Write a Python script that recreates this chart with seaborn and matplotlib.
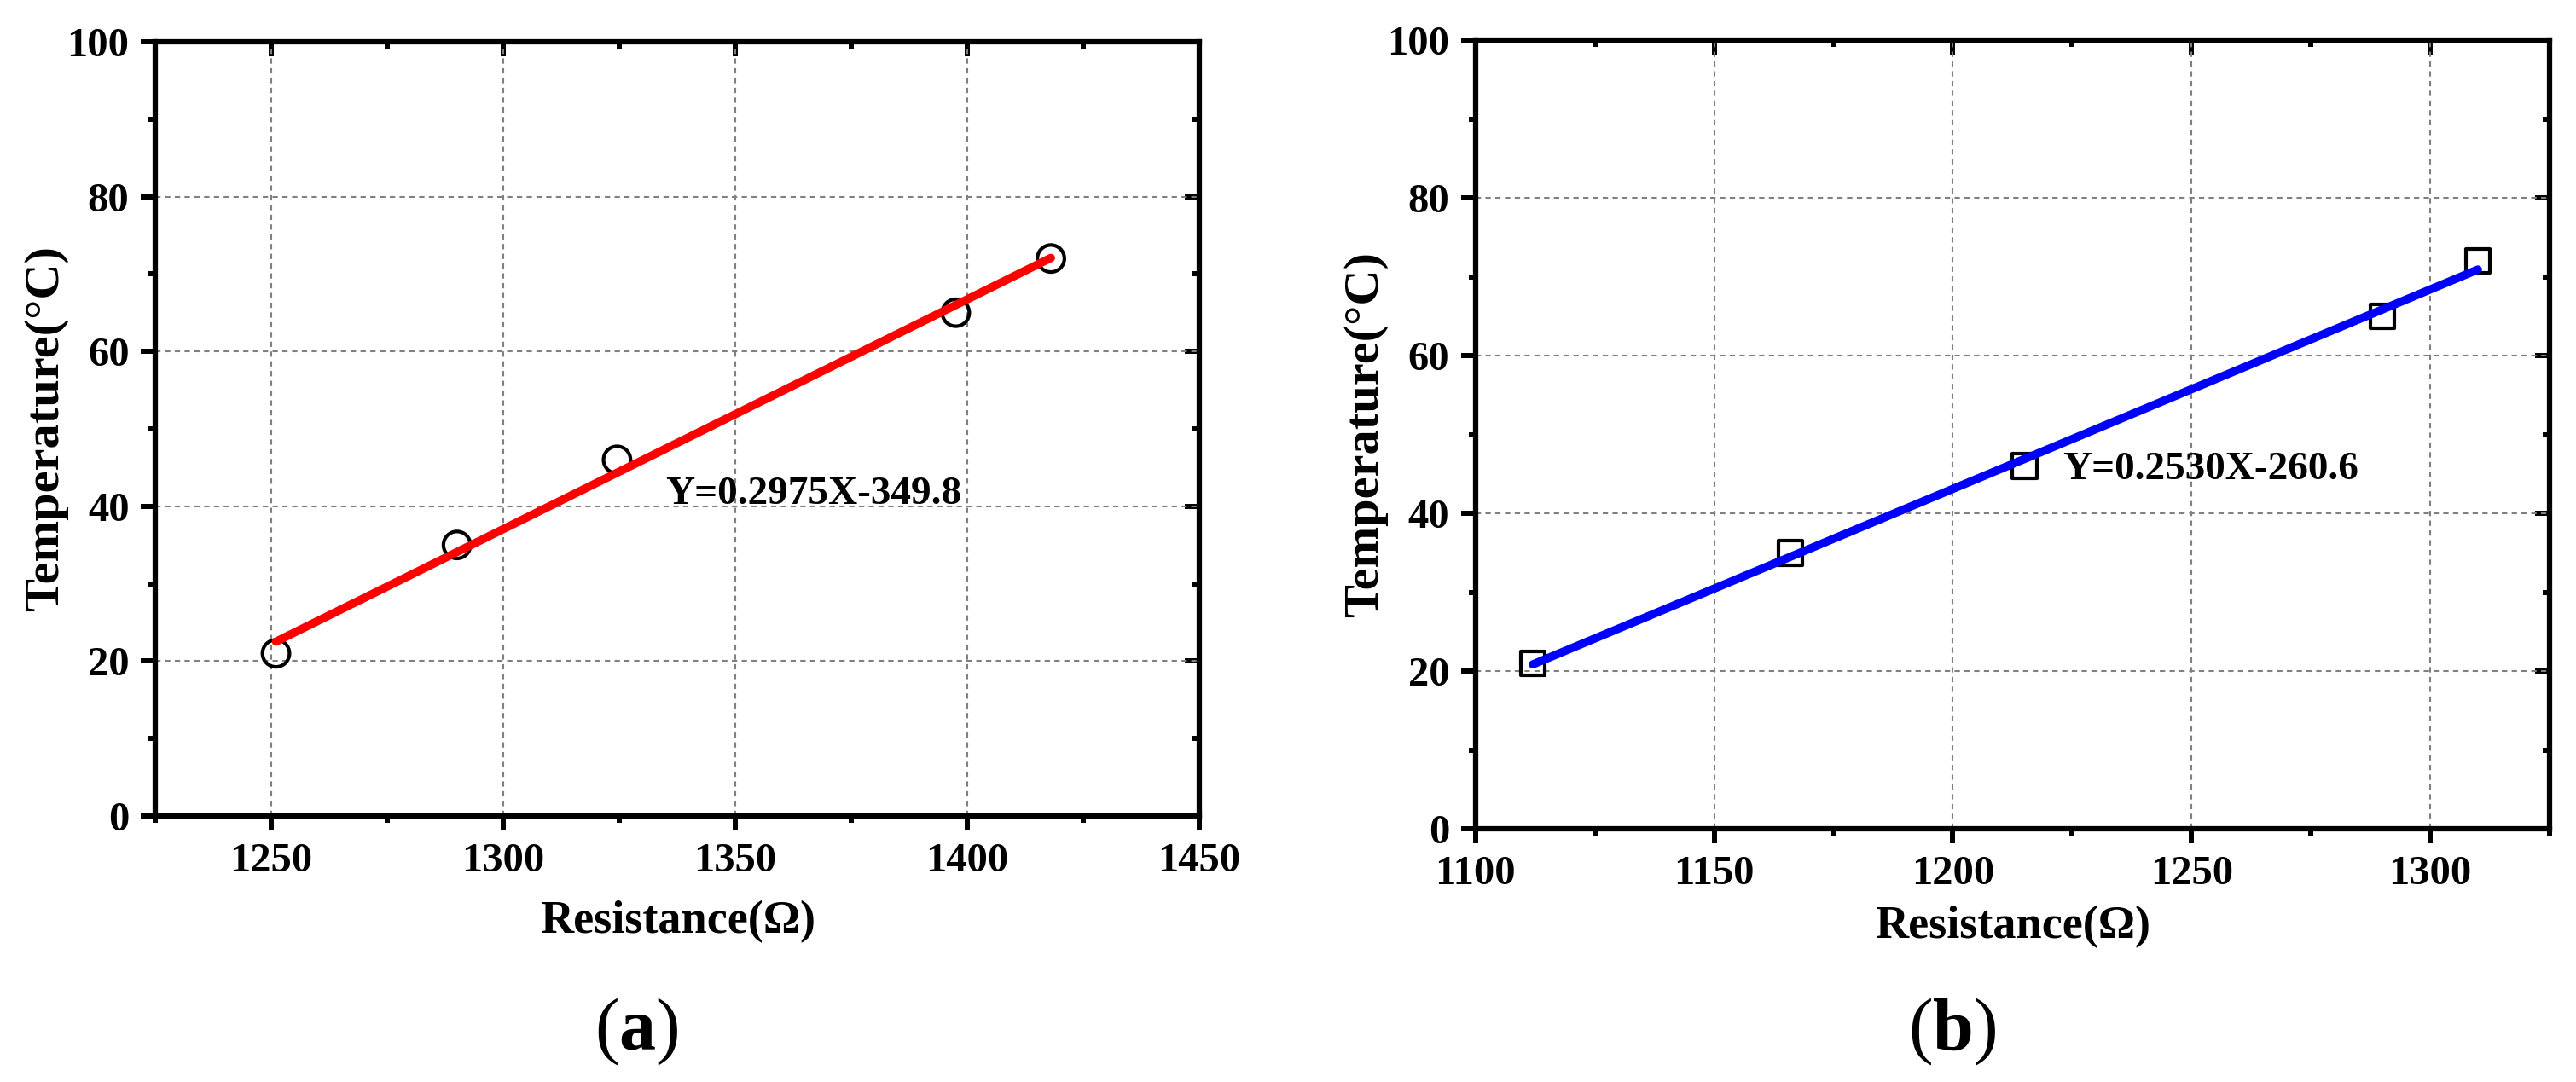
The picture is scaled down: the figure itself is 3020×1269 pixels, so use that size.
import matplotlib
matplotlib.use("Agg")
import matplotlib.pyplot as plt
import seaborn as sns
import numpy as np
import pandas as pd
from matplotlib.ticker import MultipleLocator

resistance_a = [1251, 1290, 1324.5, 1397.5, 1418]
temperature_a = [21, 35, 46, 65, 72]
resistance_b = [1112, 1166, 1215, 1290, 1310]
temperature_b = [21, 35, 46, 65, 72]

eq_a = "Y=0.2975X-349.8"
eq_b = "Y=0.2530X-260.6"
xlabel = "Resistance(Ω)"
ylabel = "Temperature(°C)"

sns.set_theme(style="ticks")
plt.rcParams['font.family'] = ['Liberation Serif', 'DejaVu Serif']
plt.rcParams['font.weight'] = 'bold'
plt.rcParams['text.color'] = 'black'
plt.rcParams['axes.labelcolor'] = 'black'
plt.rcParams['xtick.color'] = 'black'
plt.rcParams['ytick.color'] = 'black'
plt.rcParams['mathtext.fontset'] = 'custom'
plt.rcParams['mathtext.rm'] = 'Liberation Serif'
plt.rcParams['mathtext.bf'] = 'Liberation Serif:bold'

fig = plt.figure(figsize=(30.2, 12.69), dpi=100)
ax_a = fig.add_axes([0.0603, 0.2459, 0.4053, 0.7155])
ax_b = fig.add_axes([0.5728, 0.2340, 0.4169, 0.7289])

df_a = pd.DataFrame({"R": resistance_a, "T": temperature_a})
df_b = pd.DataFrame({"R": resistance_b, "T": temperature_b})


def draw_panel(ax, df, marker, msize, line_color, xlim, eq, eq_pos, ylab_x, xlab_y):
    sns.scatterplot(data=df, x="R", y="T", ax=ax, marker=marker, s=msize,
                    facecolor="none", edgecolor="black", linewidth=3, zorder=3)
    sns.regplot(data=df, x="R", y="T", ax=ax, scatter=False, ci=None, truncate=True,
                line_kws={"color": line_color, "linewidth": 7, "zorder": 4})
    ax.set_xlim(*xlim)
    ax.set_ylim(0, 100)
    ax.xaxis.set_major_locator(MultipleLocator(50))
    ax.xaxis.set_minor_locator(MultipleLocator(25))
    ax.yaxis.set_major_locator(MultipleLocator(20))
    ax.yaxis.set_minor_locator(MultipleLocator(10))
    ax.grid(True, which="major", color="#808080", linestyle=(0, (3, 2.5)), linewidth=1.5)
    ax.set_axisbelow(True)
    for sp in ax.spines.values():
        sp.set_linewidth(4.5)
        sp.set_color("black")
    ax.tick_params(which="both", direction="out", top=False, right=False,
                   width=4.3, colors="black", labelsize=35, pad=10)
    ax.tick_params(which="major", length=12)
    ax.tick_params(which="minor", length=6)
    # inward ticks on top and right
    sec_x = ax.secondary_xaxis("top")
    sec_y = ax.secondary_yaxis("right")
    for sec in (sec_x, sec_y):
        sec.tick_params(which="both", direction="in", width=4.3, labelsize=0)
        sec.tick_params(which="major", length=12)
        sec.tick_params(which="minor", length=6)
        sec.spines[:].set_visible(False)
    sec_x.xaxis.set_major_locator(MultipleLocator(50))
    sec_x.xaxis.set_minor_locator(MultipleLocator(25))
    sec_x.set_xticklabels([])
    sec_y.yaxis.set_major_locator(MultipleLocator(20))
    sec_y.yaxis.set_minor_locator(MultipleLocator(10))
    sec_y.set_yticklabels([])
    for lab in ax.get_xticklabels() + ax.get_yticklabels():
        lab.set_fontweight("bold")
    ax.set_xlabel(xlabel, fontsize=39, fontweight="bold")
    ax.set_ylabel(ylabel, fontsize=42, fontweight="bold")
    ax.xaxis.set_label_coords(0.5, xlab_y)
    ax.xaxis.label.set_va("center")
    ax.yaxis.set_label_coords(ylab_x, 0.5)
    ax.yaxis.label.set_va("center")
    ax.text(eq_pos[0], eq_pos[1], eq, fontsize=34, fontweight="bold",
            ha="left", va="center", zorder=5)


draw_panel(ax_a, df_a, "o", 520, "#FF0000", (1225, 1450), eq_a, (1335, 41.5), -0.1046, -0.1366)
draw_panel(ax_b, df_b, "s", 420, "#0000FF", (1100, 1325), eq_b, (1223, 45.5), -0.1025, -0.124)

fig.text(0.247, 0.0465, r"($\mathbf{a}$)", fontsize=62, fontweight="normal",
         ha="center", va="center")
fig.text(0.758, 0.0465, r"($\mathbf{b}$)", fontsize=62, fontweight="normal",
         ha="center", va="center")

fig.savefig("out.png", dpi=100, facecolor="white")
